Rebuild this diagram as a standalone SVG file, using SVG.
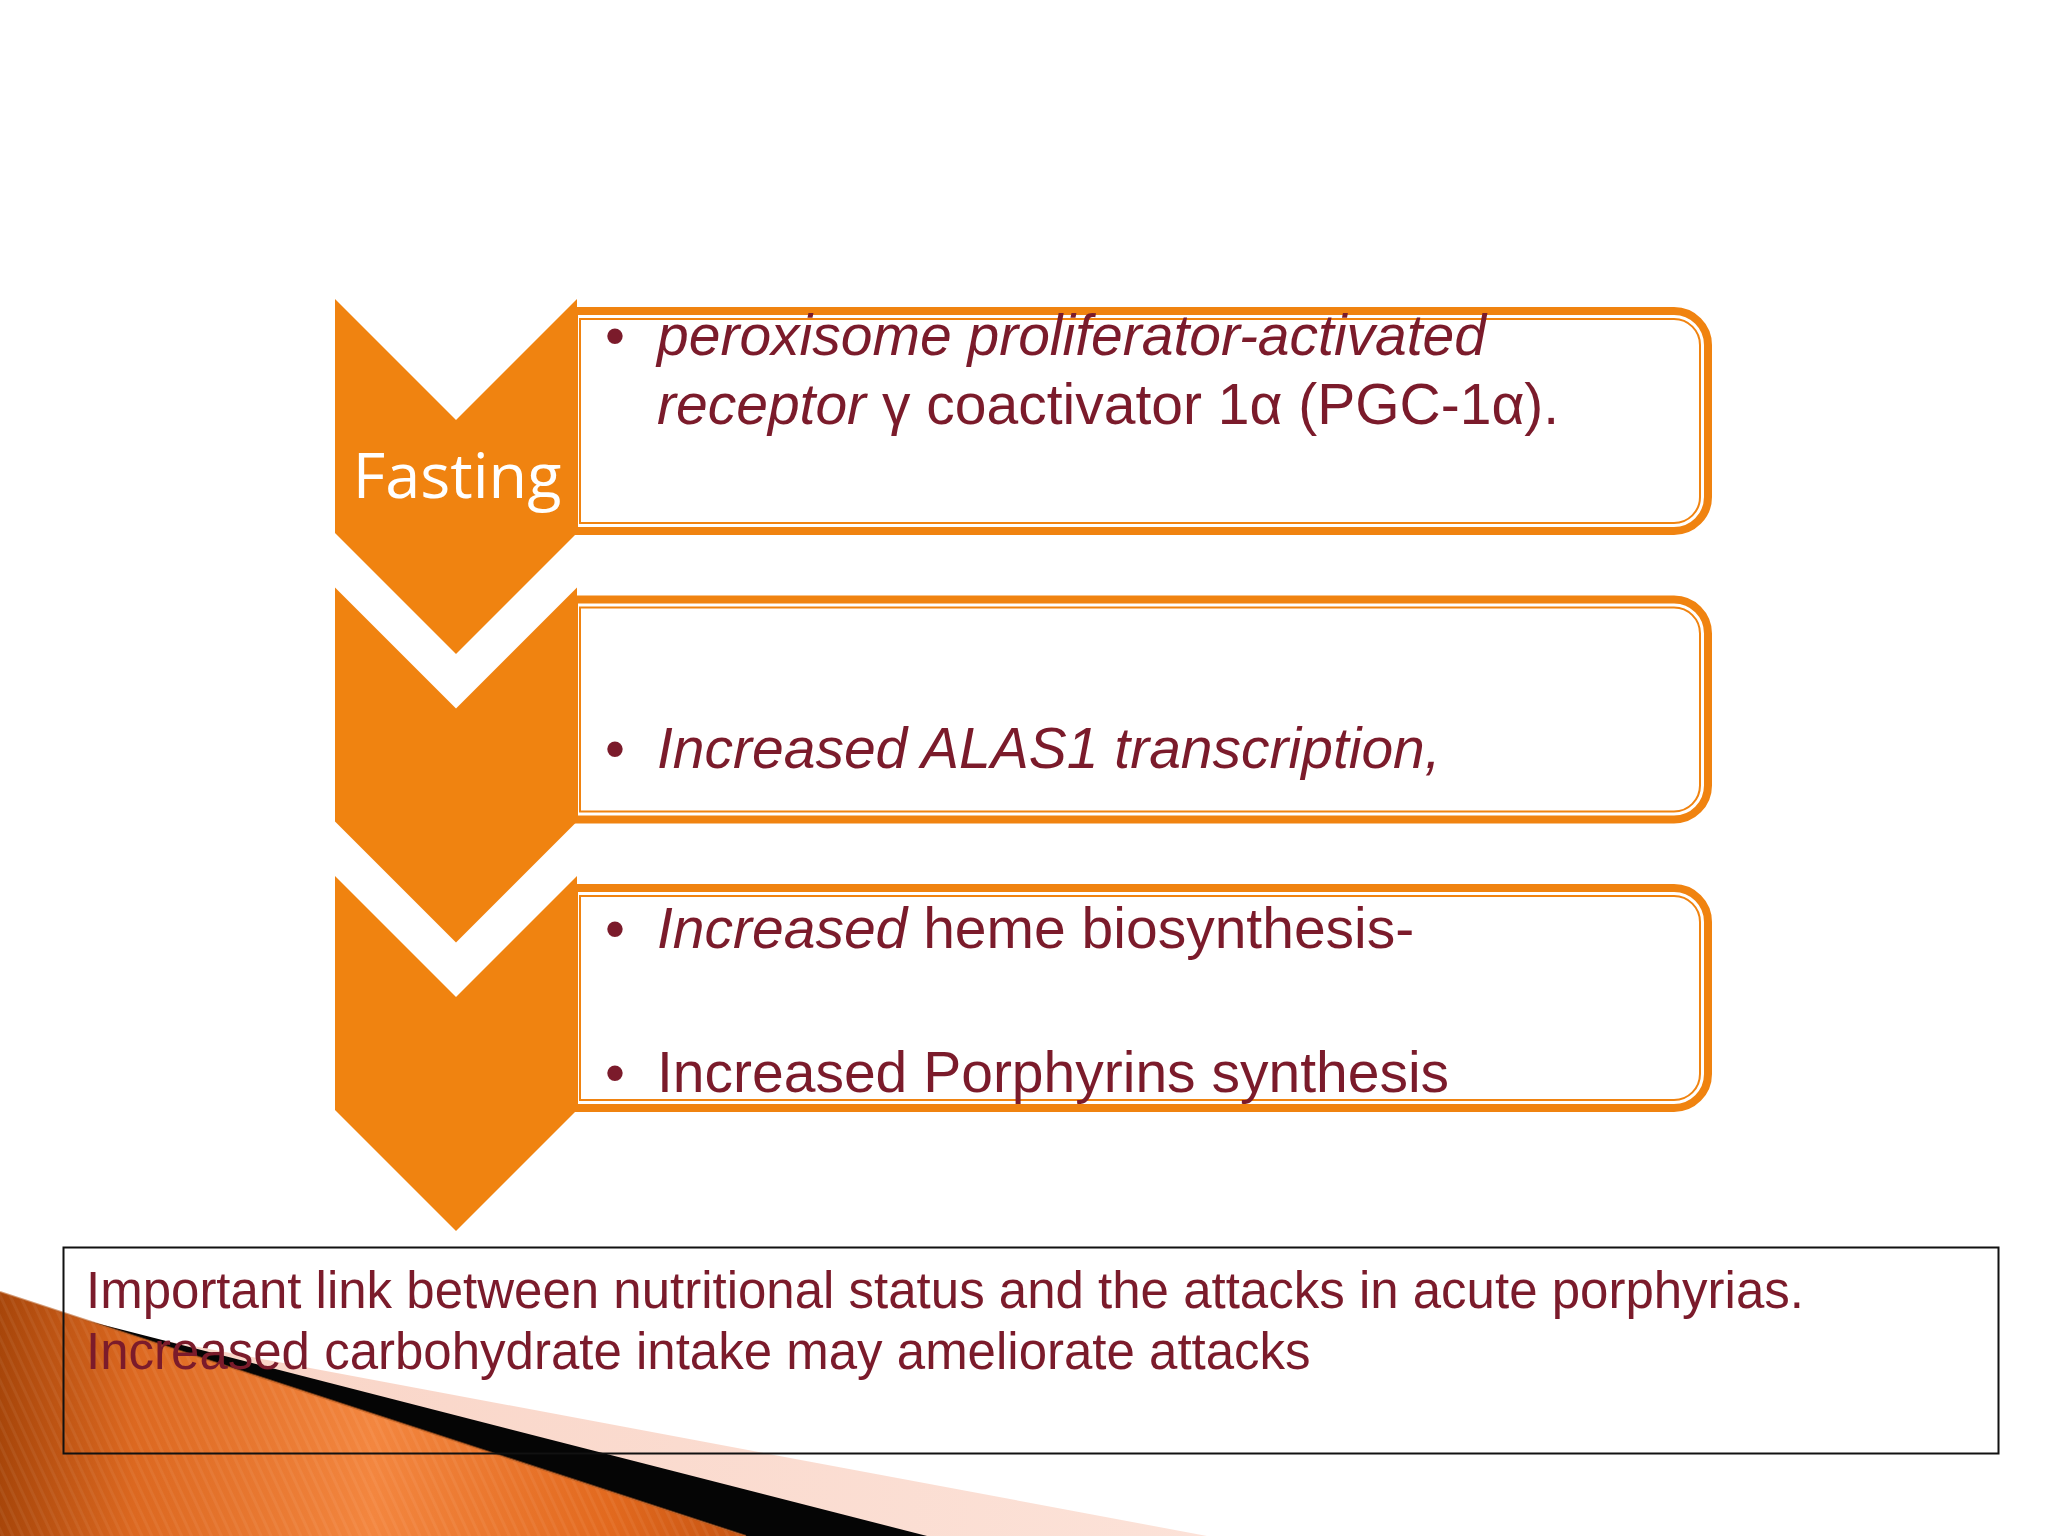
<svg xmlns="http://www.w3.org/2000/svg" width="2048" height="1536" viewBox="0 0 2048 1536">
<defs>
<style>
.chev{fill:#F08310;}
.thick{fill:#FFFFFF;stroke:#F08310;stroke-width:8;}
.thin{fill:none;stroke:#F08310;stroke-width:2;}
.t{font-family:"Liberation Sans",Arial,sans-serif;font-size:57px;fill:#7B1B2B;}
.i{font-style:italic;}
.b{font-family:"Liberation Sans",Arial,sans-serif;font-size:57px;fill:#7B1B2B;text-anchor:middle;}
.fast{font-family:"Open Sans","Noto Sans",sans-serif;font-size:63px;fill:#FFFFFF;text-anchor:middle;}
.note{font-family:"Liberation Sans",Arial,sans-serif;font-size:51px;fill:#7B1B2B;}
</style>
<linearGradient id="og" x1="0" y1="0" x2="1" y2="0">
<stop offset="0" stop-color="#A8460A"/>
<stop offset="0.18" stop-color="#DC6820"/>
<stop offset="0.5" stop-color="#F3863F"/>
<stop offset="0.82" stop-color="#E2691E"/>
<stop offset="1" stop-color="#C65412"/>
</linearGradient>
<pattern id="stripes" width="9" height="9" patternUnits="userSpaceOnUse" patternTransform="rotate(-25)">
<rect x="0" y="0" width="3" height="9" fill="#FFFFFF" fill-opacity="0.06"/>
</pattern>
<linearGradient id="pg" x1="0" y1="0" x2="1" y2="0">
<stop offset="0" stop-color="#F9D4C6"/>
<stop offset="1" stop-color="#FCE2D8"/>
</linearGradient>
</defs>
<rect x="0" y="0" width="2048" height="1536" fill="#FFFFFF"/>

<g id="decoration">
<polygon points="150,1338 1207,1536 600,1536" fill="url(#pg)"/>
<polygon points="88,1321 927,1536 746,1536" fill="#050505"/>
<polygon points="0,1292 746,1536 0,1536" fill="url(#og)"/>
<polygon points="0,1292 746,1536 0,1536" fill="url(#stripes)"/>
<line x1="0" y1="1292" x2="746" y2="1536" stroke="#B85A1E" stroke-width="2" stroke-opacity="0.6"/>
</g>

<g id="connectors"></g>

<g id="box-1">
<path class="thick" d="M574,311 H1674 A34,34 0 0 1 1708,345 V497 A34,34 0 0 1 1674,531 H574 Z"/>
<path class="thin" d="M580,319 H1674 A26,26 0 0 1 1700,345 V497 A26,26 0 0 1 1674,523 H580 Z"/>
<text class="b" x="615" y="355">•</text>
<text class="t" x="657" y="355"><tspan class="i">peroxisome proliferator-activated</tspan></text>
<text class="t" x="657" y="424"><tspan class="i">receptor</tspan> γ coactivator 1α (PGC-1α).</text>
</g>

<g id="box-2">
<path class="thick" d="M574,599.5 H1674 A34,34 0 0 1 1708,633.5 V785.5 A34,34 0 0 1 1674,819.5 H574 Z"/>
<path class="thin" d="M580,607.5 H1674 A26,26 0 0 1 1700,633.5 V785.5 A26,26 0 0 1 1674,811.5 H580 Z"/>
<text class="b" x="615" y="768">•</text>
<text class="t i" x="657" y="768">Increased ALAS1 transcription,</text>
</g>

<g id="box-3">
<path class="thick" d="M574,888 H1674 A34,34 0 0 1 1708,922 V1074 A34,34 0 0 1 1674,1108 H574 Z"/>
<path class="thin" d="M580,896 H1674 A26,26 0 0 1 1700,922 V1074 A26,26 0 0 1 1674,1100 H580 Z"/>
<text class="b" x="615" y="948">•</text>
<text class="t" x="657" y="948"><tspan class="i">Increased</tspan> heme biosynthesis-</text>
<text class="b" x="615" y="1092">•</text>
<text class="t" x="657" y="1092">Increased Porphyrins synthesis</text>
</g>

<g id="chevron-1">
<polygon class="chev" points="335,299 456,420 577,299 577,533 456,654 335,533"/>
<text class="fast" x="457" y="498">Fasting</text>
</g>
<g id="chevron-2">
<polygon class="chev" points="335,587.5 456,708.5 577,587.5 577,821.5 456,942.5 335,821.5"/>
</g>
<g id="chevron-3">
<polygon class="chev" points="335,876 456,997 577,876 577,1110 456,1231 335,1110"/>
</g>

<g id="note-box">
<rect x="63.5" y="1247.5" width="1935" height="206" fill="none" stroke="#111111" stroke-width="2"/>
<text class="note" x="86" y="1308">Important link between nutritional status and the attacks in acute porphyrias.</text>
<text class="note" x="86" y="1369">Increased carbohydrate intake may ameliorate attacks</text>
</g>
</svg>
